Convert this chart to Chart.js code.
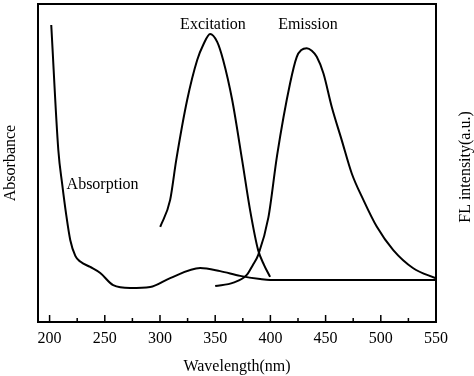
<!DOCTYPE html>
<html>
<head>
<meta charset="utf-8">
<script src="https://cdn.jsdelivr.net/npm/chart.js@4/dist/chart.umd.min.js"></script>
<style>
  body { margin: 0; background: #fff; }
</style>
</head>
<body>
<canvas id="spectraChart" width="474" height="376"></canvas>
<script>
// absorption spectrum (left axis)
let absWavelength = [201.5, 207.9, 211.5, 215.1, 218.7, 223.3, 227.8, 236.8, 245.9, 257.6, 273.0, 291.1, 309.2, 336.4, 354.5, 372.6, 390.7, 399.7, 550];
let absValues     = [93.4, 54.1, 43.1, 33.6, 25.8, 20.8, 19.0, 17.3, 15.4, 11.6, 10.7, 11.0, 13.8, 17.0, 16.0, 14.5, 13.5, 13.2, 13.2];

// excitation spectrum (right axis)
let excWavelength = [300.2, 309.2, 314.7, 324.6, 333.7, 339.1, 345.4, 351.8, 357.2, 365.4, 374.4, 381.6, 388.9, 394.3, 399.7];
let excValues     = [29.9, 38.4, 50.9, 69.8, 82.4, 87.1, 90.6, 88.1, 82.4, 69.8, 50.9, 35.2, 22.6, 17.9, 14.2];

// emission spectrum (right axis)
let emWavelength = [350, 366.5, 378.6, 383.9, 389.1, 398.2, 406.1, 417.8, 423.9, 428, 432.9, 437.5, 442.0, 448.0, 455.6, 464.6, 473.7, 484.2, 496.3, 511.3, 529.4, 550];
let emValues     = [11.3, 12.4, 14.8, 17.8, 21.2, 32.9, 52.5, 75.0, 83.4, 85.5, 86.1, 85.3, 83.4, 78.2, 67.6, 57.2, 46.7, 38.4, 30.0, 22.6, 16.9, 13.7];

let majorTicks = [200, 250, 300, 350, 400, 450, 500, 550];
let minorTicks = [225, 275, 325, 375, 425, 475, 525];

let curveNames = ["Absorption", "Excitation", "Emission"];

const serif = '"Liberation Serif", "Times New Roman", serif';

function toPoints(xs, ys) {
    return xs.map(function (x, i) { return { x: x, y: ys[i] }; });
}

// frame, inward ticks, curve names and the right-hand axis title
const framePlugin = {
    id: 'framePlugin',
    afterDraw(chart) {
        const ctx = chart.ctx;
        const a = chart.chartArea;
        const x = chart.scales.x;
        const y = chart.scales.y;
        ctx.save();
        ctx.strokeStyle = '#000';
        ctx.lineWidth = 2;
        ctx.strokeRect(a.left, a.top, a.right - a.left, a.bottom - a.top);

        ctx.lineWidth = 1.5;
        ctx.beginPath();
        majorTicks.forEach(function (v) {
            const px = x.getPixelForValue(v);
            ctx.moveTo(px, a.bottom);
            ctx.lineTo(px, a.bottom - 7);
        });
        minorTicks.forEach(function (v) {
            const px = x.getPixelForValue(v);
            ctx.moveTo(px, a.bottom);
            ctx.lineTo(px, a.bottom - 4);
        });
        ctx.stroke();

        ctx.fillStyle = '#000';
        ctx.font = '16px ' + serif;
        ctx.textAlign = 'center';
        ctx.textBaseline = 'middle';
        const spots = [[248, 43], [348, 93.4], [434, 93.4]];
        curveNames.forEach(function (name, i) {
            ctx.fillText(name, x.getPixelForValue(spots[i][0]), y.getPixelForValue(spots[i][1]));
        });

        ctx.translate(chart.width - 8, (a.top + a.bottom) / 2 + 4);
        ctx.rotate(-Math.PI / 2);
        ctx.fillText('FL intensity(a.u.)', 0, 0);
        ctx.restore();
    }
};

const lineStyle = {
    borderColor: '#000',
    borderWidth: 2,
    pointRadius: 0,
    fill: false,
    cubicInterpolationMode: 'monotone'
};

new Chart(document.getElementById('spectraChart').getContext('2d'), {
    type: 'line',
    data: {
        datasets: [
            Object.assign({ label: curveNames[0], data: toPoints(absWavelength, absValues), yAxisID: 'y' }, lineStyle),
            Object.assign({ label: curveNames[1], data: toPoints(excWavelength, excValues), yAxisID: 'y2' }, lineStyle),
            Object.assign({ label: curveNames[2], data: toPoints(emWavelength, emValues), yAxisID: 'y2' }, lineStyle)
        ]
    },
    options: {
        responsive: false,
        animation: false,
        layout: { padding: { top: 4 } },
        plugins: {
            legend: { display: false },
            tooltip: { enabled: false }
        },
        scales: {
            x: {
                type: 'linear',
                min: 189.5,
                max: 550,
                afterFit: function (scale) { scale.height = 54; },
                afterBuildTicks: function (scale) {
                    scale.ticks = majorTicks.map(function (v) { return { value: v }; });
                },
                grid: { display: false, drawTicks: false },
                border: { display: false },
                ticks: {
                    color: '#000',
                    padding: 7,
                    maxRotation: 0,
                    font: { family: serif, size: 16 }
                },
                title: {
                    display: true,
                    text: 'Wavelength(nm)',
                    color: '#000',
                    padding: { top: 0, bottom: 0 },
                    font: { family: serif, size: 16 }
                }
            },
            y: {
                position: 'left',
                min: 0,
                max: 100,
                afterFit: function (scale) { scale.width = 38; },
                grid: { display: false, drawTicks: false },
                border: { display: false },
                ticks: { display: false },
                title: {
                    display: true,
                    text: 'Absorbance',
                    color: '#000',
                    padding: { top: 1, bottom: 0 },
                    font: { family: serif, size: 16 }
                }
            },
            y2: {
                position: 'right',
                min: 0,
                max: 100,
                afterFit: function (scale) { scale.width = 38; },
                grid: { display: false, drawTicks: false },
                border: { display: false },
                ticks: { display: false }
            }
        }
    },
    plugins: [framePlugin]
});
</script>
</body>
</html>
